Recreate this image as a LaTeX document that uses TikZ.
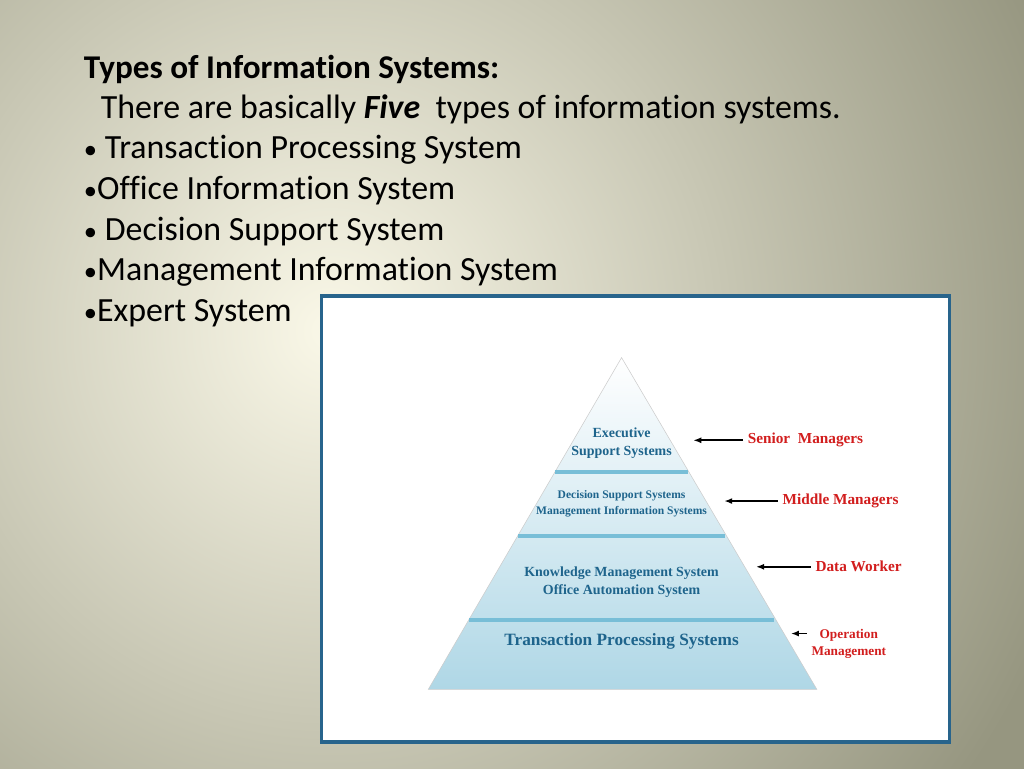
\documentclass[tikz,border=0pt]{standalone}
\usepackage{fontspec}
\setmainfont{Carlito}[Ligatures=NoCommon]
\newfontfamily\pyrfont{Liberation Serif}
\definecolor{bgdark}{RGB}{150,150,128}
\definecolor{bglight}{RGB}{250,248,232}
\definecolor{pyrtext}{RGB}{30,100,140}
\definecolor{band}{RGB}{120,190,215}
\definecolor{pyrfill}{RGB}{175,215,230}
\definecolor{frameblue}{RGB}{40,100,140}
\definecolor{lblred}{RGB}{210,30,30}
\tikzset{
 bullet/.style={anchor=west,font=\fontsize{25.5}{28}\selectfont,text=black,inner sep=0},
 layer/.style={font=\pyrfont\bfseries\fontsize{10.5}{13.5}\selectfont,text=pyrtext,align=center},
 role/.style={font=\pyrfont\bfseries\fontsize{11.5}{13}\selectfont,text=lblred,align=center,anchor=west},
 arr/.style={-{Latex[length=6pt]},line width=1.2pt},
 bandline/.style={band,line width=3pt}
}
\newcommand{\bul}{{\fontsize{20}{20}\selectfont•}}
\usetikzlibrary{arrows.meta}
\begin{document}
\begin{tikzpicture}[x=0.75pt,y=-0.75pt]
\fill[bgdark] (-2,-2) rectangle (1026,770);
\begin{scope}
\clip (-2,-2) rectangle (1026,770);
\shade[inner color=bglight,outer color=bgdark] (330,330) circle (780);
\end{scope}
\useasboundingbox (0,0) rectangle (1024,768);
\node[bullet,font=\bfseries\fontsize{25}{28}\selectfont] (t) at (82,68) {Types of Information Systems:};
\node[bullet] (l1) at (99,108) {There are basically \textbf{\textit{Five}}\ \ types of information systems.};
\node[bullet] (l2) at (82,148) {\bul{} Transaction Processing System};
\node[bullet] (l3) at (82,189) {\bul Office Information System};
\node[bullet] (l4) at (82,230) {\bul{} Decision Support System};
\node[bullet] (l5) at (82,271) {\bul Management Information System};
\node[bullet] (l6) at (82,312) {\bul Expert System};
\draw[frameblue,line width=2.5pt,fill=white] (321,295) rectangle (951,743);
\coordinate (apex) at (622,357);
\coordinate (bl) at (428,690);
\coordinate (br) at (818,690);
\shade[top color=white,bottom color=pyrfill,draw=gray!40] (apex) -- (bl) -- (br) -- cycle;
\draw[bandline] (555,472) -- (689,472);
\draw[bandline] (518,536) -- (726,536);
\draw[bandline] (469,620) -- (775,620);
\node[layer] (e) at (622,443) {Executive\\Support Systems};
\node[layer,font=\pyrfont\bfseries\fontsize{8.7}{12}\selectfont] (d) at (622,504) {Decision Support Systems\\Management Information Systems};
\node[layer] (k) at (622,582) {Knowledge Management System\\Office Automation System};
\node[layer,font=\pyrfont\bfseries\fontsize{13}{15}\selectfont] (tp) at (622,642) {Transaction Processing Systems};
\node[role] (sm) at (744,440) {Senior\ \ Managers};
\node[role] (mm) at (779,501) {Middle Managers};
\node[role] (dw) at (812,567) {Data Worker};
\node[role,font=\pyrfont\bfseries\fontsize{10}{13}\selectfont] (om) at (808,644) {Operation\\Management};
\coordinate (a1) at (694,440);
\coordinate (a2) at (725,501);
\coordinate (a3) at (757,567);
\coordinate (a4) at (792,634);
\draw[arr] (sm.west) -- (a1);
\draw[arr] (mm.west) -- (a2);
\draw[arr] (dw.west) -- (a3);
\draw[arr] (om.west |- a4) -- (a4);
\end{tikzpicture}
\end{document}
